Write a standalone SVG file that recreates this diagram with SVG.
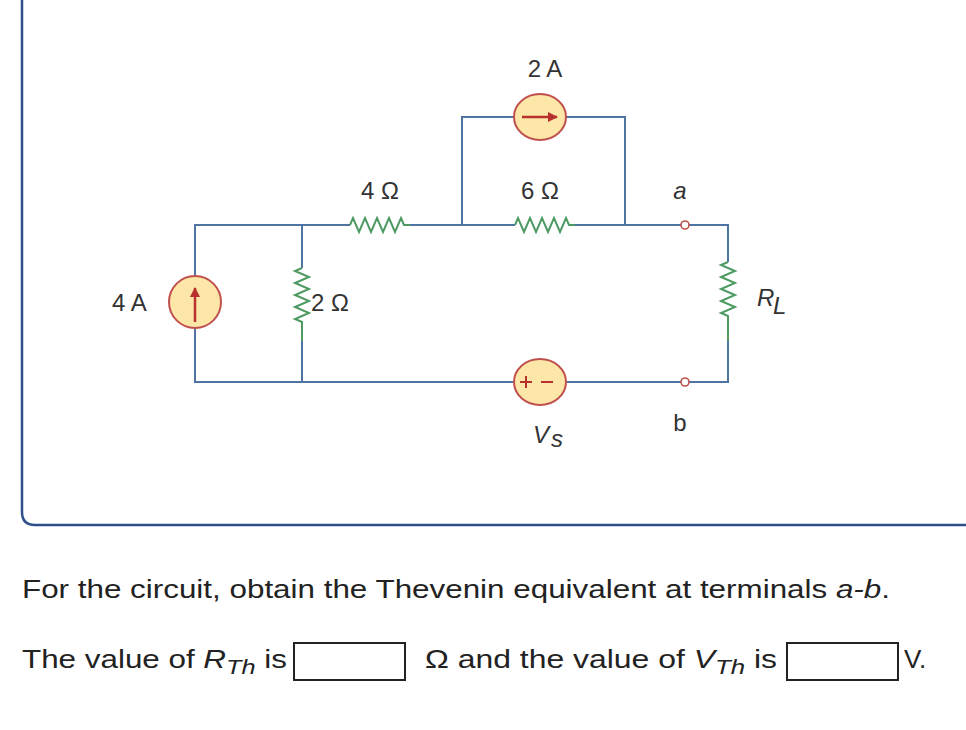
<svg xmlns="http://www.w3.org/2000/svg" width="966" height="730" viewBox="0 0 966 730">
<defs>
<style>
.w{fill:none;stroke:#4f73a3;stroke-width:2}
.r{fill:none;stroke:#4e9a62;stroke-width:2;stroke-linejoin:miter}
.s{fill:#fde7a8;stroke:#c0504d;stroke-width:2}
.t{fill:none;stroke:#c0504d;stroke-width:1.6}
.lb{font-family:"Liberation Sans",Arial,sans-serif;font-size:24px;fill:#333}
.it{font-style:italic}
.q{font-family:"Liberation Sans",Arial,sans-serif;font-size:26px;fill:#222}
.box{fill:#fff;stroke:#222;stroke-width:2}
</style>
<marker id="ah" viewBox="0 0 10 10" refX="9" refY="5" markerWidth="4" markerHeight="4" orient="auto"><path d="M0,0L10,5L0,10z" fill="#b8312f"/></marker>
</defs>
<rect width="966" height="730" fill="#fff"/>
<path d="M22,0V512Q22,525 35,525H966" fill="none" stroke="#2f4f8a" stroke-width="2.5"/>
<g id="wires">
<path class="w" d="M195,276V225H350M410,225H515M575,225H681M689,225H728V262M728,338V382H689M681,382H567M513,382H195V328"/>
<path class="w" d="M302,225V268M302,335V382"/>
<path class="w" d="M462,225V117H514M566,117H625V225"/>
</g>
<g id="r4"><path class="r" d="M350,225l3,-7l6,14l6,-14l6,14l6,-14l6,14l6,-14l6,14l6,-14l3,7h6"/><text class="lb" x="380" y="199" text-anchor="middle">4 Ω</text></g>
<g id="r6"><path class="r" d="M515,225l3,-7l6,14l6,-14l6,14l6,-14l6,14l6,-14l6,14l6,-14l3,7h6"/><text class="lb" x="540" y="199" text-anchor="middle">6 Ω</text></g>
<g id="r2"><path class="r" d="M302,268l-7,3l14,6l-14,6l14,6l-14,6l14,6l-14,6l14,6l-14,6l7,3v19"/><text class="lb" x="311" y="311">2 Ω</text></g>
<g id="rl"><path class="r" d="M728,262l-7,3l14,6l-14,6l14,6l-14,6l14,6l-14,6l14,6l-14,6l7,3v25"/><text class="lb it" x="757" y="306">R</text><text class="lb it" x="773" y="314" font-size="15">L</text></g>
<g id="i4"><ellipse class="s" cx="195" cy="302" rx="26" ry="26"/><path d="M195,322V288" stroke="#b8312f" stroke-width="2.5" marker-end="url(#ah)"/><text class="lb" x="112" y="311">4 A</text></g>
<g id="i2"><ellipse class="s" cx="540" cy="117" rx="26" ry="23"/><path d="M522,117H557" stroke="#b8312f" stroke-width="2.5" marker-end="url(#ah)"/><text class="lb" x="545" y="77" text-anchor="middle">2 A</text></g>
<g id="vs"><ellipse class="s" cx="540" cy="382" rx="26" ry="23"/><path d="M520,382h12M526,376v12M541,382h12" stroke="#b8312f" stroke-width="2"/><text class="lb it" x="533" y="443" font-size="26">V</text><text class="lb it" x="551" y="447" font-size="15">s</text></g>
<g id="ta"><circle class="t" cx="685" cy="225" r="4"/><text class="lb it" x="680" y="199" text-anchor="middle">a</text></g>
<g id="tb"><circle class="t" cx="685" cy="382" r="4"/><text class="lb" x="680" y="431" text-anchor="middle">b</text></g>
<text class="q" x="22" y="598" textLength="868" lengthAdjust="spacingAndGlyphs">For the circuit, obtain the Thevenin equivalent at terminals <tspan font-style="italic">a-b</tspan>.</text>
<text class="q" x="22" y="668" textLength="265" lengthAdjust="spacingAndGlyphs">The value of <tspan font-style="italic">R</tspan><tspan font-style="italic" font-size="21" dy="6">Th</tspan><tspan dy="-6"> is</tspan></text>
<rect class="box" x="294" y="643" width="111" height="37"/>
<text class="q" x="425" y="668" textLength="352" lengthAdjust="spacingAndGlyphs">Ω and the value of <tspan font-style="italic">V</tspan><tspan font-style="italic" font-size="21" dy="6">Th</tspan><tspan dy="-6"> is</tspan></text>
<rect class="box" x="787" y="643" width="111" height="37"/>
<text class="q" x="904" y="668">V.</text>
</svg>
